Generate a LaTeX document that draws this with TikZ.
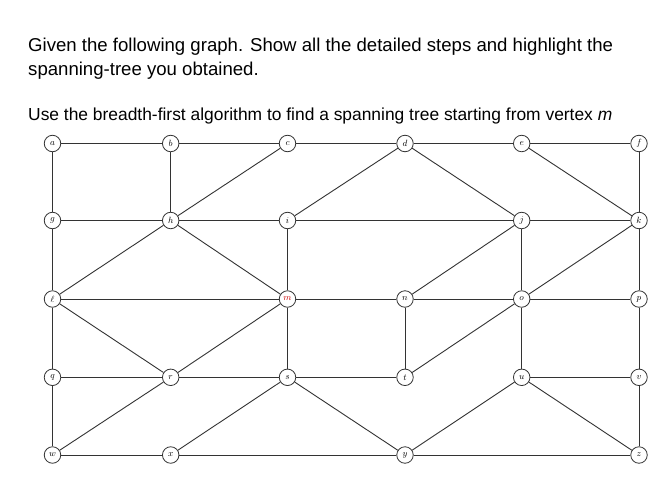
\documentclass[tikz,border=0pt]{standalone}
\usepackage{fontspec}
\setmainfont{Liberation Sans}
\begin{document}
\begin{tikzpicture}[x=1pt,y=-1pt,
  vx/.style={circle,draw=black!80,line width=0.8pt,fill=white,minimum size=16.5pt,inner sep=0pt,font=\fontsize{9}{9}\selectfont},
  ed/.style={draw=black!80,line width=0.9pt},
  txt/.style={anchor=base west,inner sep=0pt,font=\fontsize{18.6}{21}\selectfont}]
\useasboundingbox[fill=white] (0,0) rectangle (672,490);
\node[txt] (t1) at (28,51) {Given the following graph. Show all the detailed steps and highlight the};
\node[txt] (t2) at (28,75) {spanning-tree you obtained.};
\node[txt,font=\fontsize{17.4}{20}\selectfont] (t3) at (28,120) {Use the breadth-first algorithm to find a spanning tree starting from vertex \textit{m}};
\def\xa{52.5}\def\xb{170.7}\def\xc{287.5}\def\xd{405}\def\xe{521.7}\def\xf{639}
\def\ya{143.5}\def\yb{220.5}\def\yc{299}\def\yd{377.3}\def\ye{455}
\node[vx] (a) at (\xa,\ya) {$a$};
\node[vx] (b) at (\xb,\ya) {$b$};
\node[vx] (c) at (\xc,\ya) {$c$};
\node[vx] (d) at (\xd,\ya) {$d$};
\node[vx] (e) at (\xe,\ya) {$e$};
\node[vx] (f) at (\xf,\ya) {$f$};
\node[vx] (g) at (\xa,\yb) {$g$};
\node[vx] (h) at (\xb,\yb) {$h$};
\node[vx] (i) at (\xc,\yb) {$i$};
\node[vx] (j) at (\xe,\yb) {$j$};
\node[vx] (k) at (\xf,\yb) {$k$};
\node[vx] (l) at (\xa,\yc) {$\ell$};
\node[vx] (m) at (\xc,\yc) {\color{red!80!black}$m$};
\node[vx] (n) at (\xd,\yc) {$n$};
\node[vx] (o) at (\xe,\yc) {$o$};
\node[vx] (p) at (\xf,\yc) {$p$};
\node[vx] (q) at (\xa,\yd) {$q$};
\node[vx] (r) at (\xb,\yd) {$r$};
\node[vx] (s) at (\xc,\yd) {$s$};
\node[vx] (t) at (\xd,\yd) {$t$};
\node[vx] (u) at (\xe,\yd) {$u$};
\node[vx] (v) at (\xf,\yd) {$v$};
\node[vx] (w) at (\xa,\ye) {$w$};
\node[vx] (x) at (\xb,\ye) {$x$};
\node[vx] (y) at (\xd,\ye) {$y$};
\node[vx] (z) at (\xf,\ye) {$z$};
\foreach \u/\v in {a/b,b/c,c/d,d/e,e/f,a/g,g/l,l/q,q/w,b/h,c/h,g/h,h/i,i/j,j/k,i/d,d/j,e/k,f/k,k/p,p/v,v/z,h/l,h/m,i/m,l/m,m/n,n/o,o/p,n/j,j/o,o/k,n/t,o/t,o/u,l/r,m/r,m/s,q/r,r/s,s/t,u/v,r/w,s/x,s/y,u/y,u/z,w/x,x/y,y/z}
  \draw[ed] (\u) -- (\v);
\end{tikzpicture}
\end{document}
